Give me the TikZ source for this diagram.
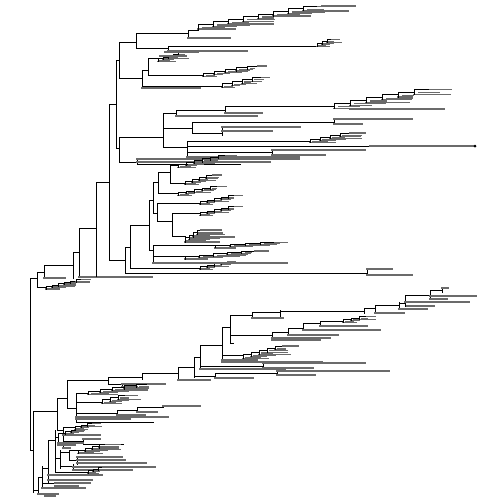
\documentclass[tikz,border=0pt]{standalone}
\tikzset{treebr/.style={line width=1.0pt,black,line cap=rect},
         treelf/.style={line width=1.3pt,black!58,line cap=rect}}
\newcommand\Hb[3]{\draw[treebr] (#1,#3) -- (#2,#3);}
\newcommand\Vb[3]{\draw[treebr] (#1,#2) -- (#1,#3);}
\newcommand\Lf[3]{\draw[treelf] (#1,#3) -- (#2,#3);}
% staircase clade: x y n dx dy L
\newcommand\Stair[6]{%
  \foreach \i in {1,...,#3}{%
    \pgfmathsetmacro\sxa{#1+(\i-1)*#4}%
    \pgfmathsetmacro\sya{#2-(\i-1)*#5}%
    \pgfmathsetmacro\slen{#6*(0.35+0.17*mod(\i*3,5))}%
    \pgfmathsetmacro\slenb{#6*(0.25+0.12*mod(\i*2,5))}%
    \draw[treelf] (\sxa,\sya+0.8*#5) -- ++(\slen,0);
    \draw[treelf] (\sxa+0.3*#4,\sya+0.2*#5) -- ++(\slenb,0);
    \draw[treebr] (\sxa,\sya-#5) -- (\sxa,\sya+0.8*#5);
    \draw[treebr] (\sxa,\sya-#5) -- ++(#4,0);
  }%
  \draw[treelf] ({#1+#3*#4},{#2-#3*#5}) -- ++({0.5*#6},0);
}
\begin{document}
\begin{tikzpicture}[x=1pt,y=-1pt]
\useasboundingbox (0,0) rectangle (504,504);
% ROOT
\Vb{30}{278}{450}
\Hb{30}{33}{450}
\Vb{33}{411}{492}
% ===== TOP CLADE =====
\Hb{30}{37}{278}
\Vb{37}{272}{287}
\Hb{37}{46}{287}
\Stair{46}{288}{6}{6}{1.4}{16}
\Hb{37}{44}{272}
\Vb{44}{265}{278}
\Lf{44}{65}{278}
\Hb{44}{73}{265}
\Vb{73}{252}{278}
\Hb{73}{79}{252}
\Vb{79}{228}{277}
\Lf{79}{152}{277}
\Hb{79}{96}{228}
\Vb{96}{182}{276}
\Hb{96}{109}{182}
\Vb{109}{104}{260}
\Hb{109}{116}{104}
\Vb{116}{60}{148}
\Hb{116}{119}{60}
\Vb{119}{42}{78}
\Hb{119}{136}{42}
\Vb{136}{33}{48}
\Hb{136}{188}{33}
\Vb{188}{30}{38}
\Lf{188}{230}{38}
\Hb{188}{198}{30}
\Stair{198}{27}{8}{15}{2.6}{44}
\Lf{322}{355}{6}
\Hb{136}{168}{48}
\Vb{168}{46}{51}
\Hb{168}{317}{46}
\Stair{317}{45}{3}{5}{1.8}{14}
\Lf{168}{247}{51}
\Hb{119}{142}{78}
\Vb{142}{70}{86}
\Hb{142}{222}{86}
\Stair{222}{86}{4}{10}{2.2}{14}
\Lf{142}{200}{88}
\Hb{142}{148}{70}
\Vb{148}{58}{75}
\Hb{148}{203}{75}
\Stair{203}{75}{5}{11}{1.8}{16}
\Hb{148}{158}{58}
\Stair{158}{60}{5}{5}{1.5}{20}
\Lf{165}{198}{52}
\Lf{160}{185}{56}
\Hb{116}{119}{148}
\Vb{119}{137}{162}
\Hb{119}{163}{137}
\Vb{163}{113}{147}
\Hb{163}{176}{113}
\Vb{176}{110}{116}
\Lf{176}{257}{116}
\Hb{176}{225}{110}
\Vb{225}{106}{113}
\Lf{225}{262}{113}
\Hb{225}{334}{106}
\Stair{334}{106}{6}{16}{2.8}{42}
\Lf{350}{444}{109}
\Hb{163}{192}{128}
\Vb{192}{122}{133}
\Hb{192}{334}{122}
\Vb{334}{119}{124}
\Lf{334}{412}{119}
\Lf{334}{362}{124}
\Hb{192}{222}{133}
\Vb{222}{127}{135}
\Lf{222}{272}{131}
\Lf{222}{300}{127}
\Hb{163}{187}{147}
\Vb{187}{141}{157}
\Hb{187}{370}{146}
\Lf{370}{475}{146}
\fill (475,146) circle (1.5pt);
\Hb{187}{310}{141}
\Stair{310}{141}{4}{10}{2}{30}
\Hb{187}{272}{152}
\Vb{272}{150}{155}
\Lf{272}{365}{150}
\Lf{272}{325}{155}
\Lf{187}{299}{157}
\Hb{119}{137}{162}
\Vb{137}{159}{164}
\Lf{137}{299}{159}
\Lf{137}{270}{162}
\Hb{137}{240}{164}
\Hb{109}{125}{260}
\Vb{125}{247}{273}
\Hb{125}{367}{273}
\Vb{367}{269}{275}
\Lf{367}{392}{269}
\Lf{367}{412}{275}
\Hb{125}{130}{247}
\Vb{130}{225}{268}
\Hb{130}{200}{268}
\Stair{200}{268}{4}{7}{1.5}{14}
\Hb{130}{149}{225}
\Vb{149}{200}{250}
\Hb{149}{153}{200}
\Vb{153}{182}{213}
\Hb{153}{158}{182}
\Vb{158}{172}{193}
\Hb{158}{170}{172}
\Vb{170}{165}{183}
\Hb{170}{178}{165}
\Stair{178}{166}{6}{8}{1.8}{20}
\Hb{170}{185}{183}
\Stair{185}{183}{4}{7}{2}{16}
\Hb{158}{178}{193}
\Stair{178}{194}{5}{8}{1.5}{16}
\Hb{153}{157}{213}
\Vb{157}{203}{221}
\Hb{157}{200}{203}
\Stair{200}{203}{5}{7}{1.5}{14}
\Hb{157}{172}{221}
\Vb{172}{213}{236}
\Hb{172}{200}{213}
\Stair{200}{214}{5}{7}{1.5}{14}
\Hb{172}{185}{236}
\Stair{185}{240}{4}{4}{2.5}{40}
\Hb{149}{153}{250}
\Vb{153}{245}{263}
\Lf{153}{287}{263}
\Hb{153}{215}{245}
\Stair{215}{247}{4}{15}{1.2}{24}
\Hb{153}{185}{256}
\Stair{185}{258}{5}{14}{1.4}{26}
% ===== BOTTOM CLADE B =====
\Hb{33}{57}{411}
\Vb{57}{398}{430}
\Hb{57}{67}{398}
\Vb{67}{380}{408}
\Hb{67}{108}{380}
\Vb{108}{377}{384}
\Hb{108}{142}{377}
\Vb{142}{373}{379}
\Hb{142}{178}{373}
\Vb{178}{367}{380}
\Hb{178}{194}{367}
\Vb{194}{357}{377}
\Hb{194}{200}{357}
\Vb{200}{345}{369}
\Hb{200}{222}{345}
\Vb{222}{327}{362}
\Hb{222}{230}{327}
\Vb{230}{315}{343}
\Hb{230}{252}{315}
\Vb{252}{312}{318}
\Lf{252}{283}{318}
\Hb{252}{280}{312}
\Vb{280}{310}{316}
\Hb{280}{364}{311}
\Vb{364}{308}{313}
\Hb{364}{375}{308}
\Vb{375}{305}{313}
\Lf{375}{404}{313}
\Hb{375}{399}{305}
\Vb{399}{302}{309}
\Lf{399}{427}{309}
\Hb{399}{405}{303}
\Vb{405}{295}{306}
\Lf{405}{469}{302}
\Lf{407}{434}{306}
\Hb{405}{430}{295}
\Vb{430}{290}{299}
\Lf{430}{476}{296}
\Lf{430}{447}{299}
\Hb{430}{442}{290}
\Vb{442}{288}{292}
\Lf{442}{448}{288}
\Hb{230}{233}{343}
\Hb{230}{272}{335}
\Vb{272}{332}{340}
\Hb{272}{288}{332}
\Vb{288}{328}{335}
\Hb{288}{303}{328}
\Vb{303}{323}{330}
\Hb{303}{320}{323}
\Vb{320}{321}{326}
\Hb{320}{343}{321}
\Stair{343}{321}{3}{8}{1.5}{16}
\Lf{320}{367}{326}
\Lf{303}{380}{330}
\Lf{288}{338}{335}
\Lf{272}{330}{338}
\Lf{272}{320}{340}
\Hb{222}{243}{355}
\Stair{243}{357}{5}{8}{2.2}{30}
\Lf{222}{257}{360}
\Lf{222}{322}{362}
\Hb{200}{263}{366}
\Vb{263}{363}{369}
\Lf{263}{365}{363}
\Lf{263}{313}{368}
\Lf{200}{285}{369}
\Hb{194}{215}{376}
\Vb{215}{373}{378}
\Lf{215}{253}{378}
\Hb{215}{277}{373}
\Vb{277}{371}{375}
\Lf{277}{389}{371}
\Lf{277}{315}{375}
\Lf{178}{210}{380}
\Hb{108}{122}{384}
\Vb{122}{383}{387}
\Lf{122}{152}{384}
\Lf{122}{137}{387}
\Hb{67}{76}{408}
\Vb{76}{393}{422}
\Hb{76}{88}{393}
\Stair{88}{393}{5}{12}{1.8}{34}
\Hb{76}{102}{402}
\Stair{102}{402}{3}{8}{2.2}{22}
\Hb{76}{117}{413}
\Vb{117}{410}{415}
\Hb{117}{137}{410}
\Vb{137}{407}{412}
\Hb{137}{163}{407}
\Lf{163}{200}{406}
\Lf{137}{157}{412}
\Lf{117}{145}{415}
\Lf{76}{168}{417}
\Lf{76}{130}{419}
\Hb{76}{153}{422}
\Hb{57}{63}{430}
\Vb{63}{427}{448}
\Hb{63}{75}{427}
\Stair{75}{428}{3}{6}{1.5}{14}
\Lf{63}{100}{435}
\Hb{63}{83}{441}
\Vb{83}{439}{444}
\Lf{83}{100}{439}
\Hb{83}{123}{444}
\Lf{63}{70}{448}
% ===== BOTTOM CLADE C =====
\Hb{33}{38}{490}
\Vb{38}{477}{494}
\Lf{38}{58}{494}
\Lf{45}{55}{496}
\Hb{38}{42}{477}
\Vb{42}{466}{488}
\Hb{42}{48}{468}
\Vb{48}{440}{482}
\Hb{48}{55}{440}
\Vb{55}{430}{472}
\Hb{55}{58}{437}
\Vb{58}{433}{445}
\Hb{58}{65}{433}
\Stair{65}{433}{2}{6}{1.5}{14}
\Lf{58}{83}{443}
\Lf{58}{75}{445}
\Hb{55}{60}{458}
\Vb{60}{450}{468}
\Hb{60}{69}{452}
\Vb{69}{450}{460}
\Hb{69}{78}{450}
\Stair{78}{452}{4}{7}{1.8}{28}
\Hb{69}{77}{460}
\Vb{77}{456}{464}
\Lf{77}{122}{457}
\Lf{77}{125}{460}
\Lf{77}{146}{463}
\Hb{60}{73}{466}
\Vb{73}{464}{470}
\Lf{73}{155}{467}
\Lf{73}{132}{470}
\Hb{55}{88}{472}
\Stair{88}{472}{3}{5}{1.5}{12}
\Lf{48}{102}{475}
\Lf{48}{92}{480}
\Hb{42}{55}{483}
\Lf{55}{90}{483}
\Lf{42}{85}{488}
\Lf{55}{78}{486}
\end{tikzpicture}
\end{document}
